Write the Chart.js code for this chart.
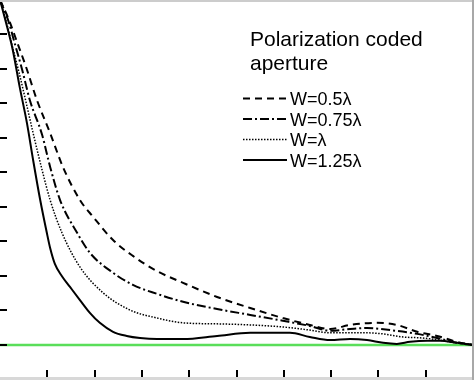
<!DOCTYPE html>
<html>
<head>
<meta charset="utf-8">
<script src="https://cdn.jsdelivr.net/npm/chart.js@4.4.0/dist/chart.umd.min.js"></script>
<style>
html,body{margin:0;padding:0;background:#fff;}
canvas{display:block;}
</style>
</head>
<body>
<canvas id="c" width="474" height="380"></canvas>
<script>
// ---- data ----
const legendTitle = ["Polarization coded", "aperture"];
const seriesLabels = ["W=0.5\u03bb", "W=0.75\u03bb", "W=\u03bb", "W=1.25\u03bb"];

const w05X = [0, 0.19, 0.36, 0.55, 0.78, 1.06, 1.33, 1.69, 1.97, 2.39, 2.81, 3.32, 3.87, 4.59, 5.29, 5.98, 6.55, 6.98, 7.40, 7.97, 8.39, 8.82, 9.24, 9.66, 10.0];
const w05Y = [10.0, 9.42, 8.78, 8.06, 7.10, 6.14, 5.16, 4.20, 3.71, 3.04, 2.58, 2.14, 1.80, 1.39, 1.07, 0.78, 0.58, 0.46, 0.58, 0.64, 0.58, 0.38, 0.26, 0.09, 0.0];

const w075X = [0, 0.17, 0.32, 0.47, 0.63, 0.89, 1.06, 1.27, 1.63, 1.90, 2.39, 2.81, 3.32, 3.87, 4.59, 5.29, 5.98, 6.55, 6.98, 7.40, 7.76, 8.25, 8.82, 9.24, 9.66, 10.0];
const w075Y = [10.0, 9.42, 8.70, 7.97, 7.10, 6.09, 5.16, 4.20, 3.25, 2.67, 2.09, 1.74, 1.48, 1.25, 1.04, 0.87, 0.70, 0.55, 0.41, 0.46, 0.49, 0.43, 0.32, 0.20, 0.06, 0.0];

const w1X = [0, 0.15, 0.27, 0.40, 0.55, 0.70, 0.89, 1.06, 1.31, 1.69, 2.18, 2.75, 3.32, 3.87, 4.59, 5.29, 5.98, 6.55, 6.98, 7.40, 7.76, 8.10, 8.52, 8.94, 9.30, 9.66, 10.0];
const w1Y = [10.0, 9.28, 8.61, 7.91, 7.04, 6.14, 5.07, 4.20, 3.25, 2.26, 1.51, 1.01, 0.78, 0.64, 0.61, 0.58, 0.52, 0.43, 0.35, 0.35, 0.35, 0.32, 0.23, 0.20, 0.14, 0.06, 0.0];

const w125X = [0, 0.15, 0.27, 0.42, 0.57, 0.70, 0.85, 0.99, 1.06, 1.16, 1.31, 1.48, 1.69, 1.90, 2.11, 2.39, 2.68, 2.96, 3.32, 3.87, 4.59, 5.29, 5.71, 6.13, 6.55, 6.98, 7.40, 7.76, 8.10, 8.39, 8.67, 9.03, 9.30, 9.66, 10.0];
const w125Y = [10.0, 9.22, 8.55, 7.45, 6.43, 5.36, 4.20, 3.25, 2.81, 2.35, 1.99, 1.68, 1.30, 0.93, 0.64, 0.38, 0.26, 0.20, 0.17, 0.17, 0.26, 0.35, 0.35, 0.35, 0.23, 0.14, 0.17, 0.14, 0.06, 0.03, 0.09, 0.12, 0.12, 0.06, 0.0];

const baseX = [0, 10];
const baseY = [0, 0];

const xTicks = [1, 2, 3, 4, 5, 6, 7, 8, 9];
const yTicks = [0, 1, 2, 3, 4, 5, 6, 7, 8, 9];

function pts(xs, ys) { return xs.map((x, i) => ({x: x, y: ys[i]})); }

const FONT = '"Liberation Sans", Arial, sans-serif';

const decorPlugin = {
  id: 'decor',
  afterDatasetsDraw(chart) {
    const ctx = chart.ctx;
    const xs = chart.scales.x, ys = chart.scales.y;
    const a = chart.chartArea;
    ctx.save();
    // tick marks (inside)
    ctx.strokeStyle = '#000';
    ctx.lineWidth = 2;
    ctx.setLineDash([]);
    yTicks.forEach(v => {
      const p = Math.round(ys.getPixelForValue(v));
      ctx.beginPath(); ctx.moveTo(a.left, p); ctx.lineTo(a.left + 7, p); ctx.stroke();
    });
    xTicks.forEach(v => {
      const p = Math.round(xs.getPixelForValue(v));
      ctx.beginPath(); ctx.moveTo(p, a.bottom); ctx.lineTo(p, a.bottom - 7); ctx.stroke();
    });
    // frame
    ctx.fillStyle = '#cccccc';
    ctx.fillRect(0, 0, chart.width, 2);
    ctx.fillStyle = '#d8d8d8';
    ctx.fillRect(0, a.bottom, chart.width, chart.height - a.bottom);
    ctx.fillStyle = '#a8a8a8';
    ctx.fillRect(a.right - 1, 0, 2, chart.height);

    // legend
    ctx.fillStyle = '#000';
    ctx.textBaseline = 'alphabetic';
    ctx.font = '21px ' + FONT;
    ctx.fillText(legendTitle[0], 250, 46);
    ctx.fillText(legendTitle[1], 250, 70);
    ctx.font = '18px ' + FONT;
    const baselines = [105, 125.5, 146, 166.5];
    seriesLabels.forEach((lab, i) => {
      const ds = chart.data.datasets[i];
      const b = baselines[i];
      ctx.save();
      ctx.strokeStyle = '#000';
      ctx.lineWidth = ds.borderWidth;
      ctx.setLineDash(ds.borderDash || []);
      ctx.beginPath(); ctx.moveTo(243, b - 6.5); ctx.lineTo(287, b - 6.5); ctx.stroke();
      ctx.restore();
      ctx.fillText(lab, 290, b);
    });
    ctx.restore();
  }
};

new Chart(document.getElementById('c'), {
  type: 'line',
  data: {
    datasets: [
      {label: seriesLabels[0], data: pts(w05X, w05Y), borderColor: '#000', borderWidth: 2, borderDash: [7, 5]},
      {label: seriesLabels[1], data: pts(w075X, w075Y), borderColor: '#000', borderWidth: 2, borderDash: [9, 3, 2, 3]},
      {label: seriesLabels[2], data: pts(w1X, w1Y), borderColor: '#000', borderWidth: 1.5, borderDash: [1.5, 1.5]},
      {label: seriesLabels[3], data: pts(w125X, w125Y), borderColor: '#000', borderWidth: 2, borderDash: []},
      {label: 'baseline', data: pts(baseX, baseY), borderColor: '#5ade5a', borderWidth: 2.5, order: 10}
    ]
  },
  options: {
    responsive: false,
    animation: false,
    devicePixelRatio: 1,
    layout: {padding: {left: 0, right: 1, top: 2, bottom: 3}},
    elements: {
      point: {radius: 0},
      line: {cubicInterpolationMode: 'monotone', fill: false}
    },
    plugins: {legend: {display: false}, tooltip: {enabled: false}},
    scales: {
      x: {type: 'linear', min: 0, max: 10, display: false},
      y: {type: 'linear', min: -0.93, max: 9.94, display: false}
    }
  },
  plugins: [decorPlugin]
});
</script>
</body>
</html>
